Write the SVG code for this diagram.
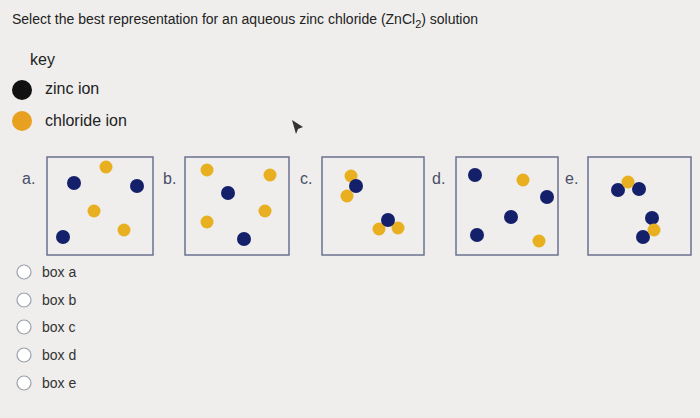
<svg xmlns="http://www.w3.org/2000/svg" width="700" height="418" viewBox="0 0 700 418">
<style>
text{font-family:"Liberation Sans",Arial,sans-serif;fill:#222}
.lbl{font-size:16px;fill:#4a4e6a}
.box{fill:none;stroke:#6b7290;stroke-width:1.5}
.z{fill:#14206a}
.c{fill:#e8b021}
.r{fill:#fff;stroke:#9aa0a8;stroke-width:1.2}
.opt{font-size:14px;fill:#333}
</style>
<rect width="700" height="418" fill="#efeeec"/>
<text x="12" y="24" font-size="14">Select the best representation for an aqueous zinc chloride (ZnCl<tspan font-size="11" dy="4">2</tspan><tspan dy="-4">) solution</tspan></text>
<g id="key">
<text x="30" y="65" font-size="16" font-family="Lato,sans-serif">key</text>
<circle cx="22" cy="90" r="10" fill="#111"/>
<text x="45" y="94" font-size="16" font-family="Lato,sans-serif">zinc ion</text>
<circle cx="22" cy="121" r="10" fill="#e8a020"/>
<text x="45" y="126" font-size="16" font-family="Lato,sans-serif">chloride ion</text>
</g>
<polygon points="292,120 303,127 298,129 296,134" fill="#333"/>
<g id="box-a">
<text class="lbl" x="22" y="184">a.</text>
<rect class="box" x="47" y="157" width="106" height="98"/>
<circle class="c" cx="106" cy="167" r="6.5"/><circle class="z" cx="74" cy="183" r="7"/><circle class="z" cx="137" cy="186" r="7"/>
<circle class="c" cx="94" cy="211" r="6.5"/><circle class="c" cx="124" cy="230" r="6.5"/><circle class="z" cx="63" cy="237" r="7"/>
</g>
<g id="box-b">
<text class="lbl" x="163" y="184">b.</text>
<rect class="box" x="185" y="157" width="104" height="98"/>
<circle class="c" cx="207" cy="170" r="6.5"/><circle class="c" cx="270" cy="175" r="6.5"/><circle class="z" cx="228" cy="193" r="7"/>
<circle class="c" cx="265" cy="211" r="6.5"/><circle class="c" cx="207" cy="222" r="6.5"/><circle class="z" cx="244" cy="239" r="7"/>
</g>
<g id="box-c">
<text class="lbl" x="300" y="184">c.</text>
<rect class="box" x="322" y="157" width="102" height="98"/>
<circle class="c" cx="351" cy="176" r="6.5"/><circle class="c" cx="347" cy="196" r="6.5"/><circle class="z" cx="356" cy="186" r="7"/>
<circle class="c" cx="379" cy="229" r="6.5"/><circle class="c" cx="398" cy="228" r="6.5"/><circle class="z" cx="388" cy="220" r="7"/>
</g>
<g id="box-d">
<text class="lbl" x="432" y="184">d.</text>
<rect class="box" x="456" y="157" width="102" height="98"/>
<circle class="z" cx="475" cy="175" r="7"/><circle class="c" cx="523" cy="180" r="6.5"/><circle class="z" cx="547" cy="197" r="7"/>
<circle class="z" cx="511" cy="217" r="7"/><circle class="z" cx="477" cy="235" r="7"/><circle class="c" cx="539" cy="241" r="6.5"/>
</g>
<g id="box-e">
<text class="lbl" x="565" y="184">e.</text>
<rect class="box" x="588" y="157" width="103" height="98"/>
<circle class="z" cx="618" cy="190" r="7"/><circle class="z" cx="639" cy="189" r="7"/><circle class="c" cx="628" cy="182" r="6.5"/>
<circle class="z" cx="652" cy="218" r="7"/><circle class="z" cx="643" cy="237" r="7"/><circle class="c" cx="654" cy="230" r="6.5"/>
</g>
<g id="options">
<circle class="r" cx="24" cy="272" r="7"/><text class="opt" x="42" y="277">box a</text>
<circle class="r" cx="24" cy="300" r="7"/><text class="opt" x="42" y="305">box b</text>
<circle class="r" cx="24" cy="327" r="7"/><text class="opt" x="42" y="332">box c</text>
<circle class="r" cx="24" cy="355" r="7"/><text class="opt" x="42" y="360">box d</text>
<circle class="r" cx="24" cy="383" r="7"/><text class="opt" x="42" y="388">box e</text>
</g>
</svg>
